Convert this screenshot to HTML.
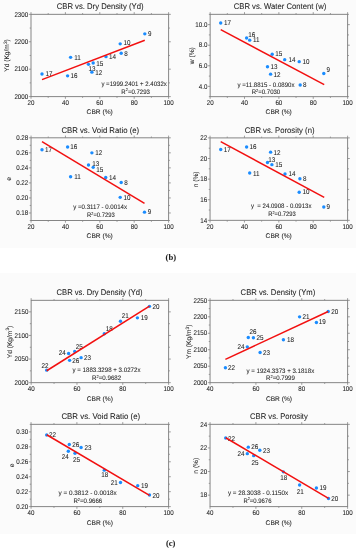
<!DOCTYPE html>
<html><head><meta charset="utf-8"><style>
html,body{margin:0;padding:0;background:#fff;}
svg{display:block;text-rendering:geometricPrecision;will-change:transform;}
text{font-family:"Liberation Sans",sans-serif;fill:#222;stroke:#222;stroke-width:0.06px;}
.tk{font-size:6.88px;}
.lb{font-size:6.99px;}
.ti{font-size:8.2px;}
.ax{font-size:6.65px;}
.eq{font-size:6.5px;}
.sup{font-size:4.8px;}
.sup2{font-size:4.2px;}
.cap{font-family:"Liberation Serif",serif;font-weight:bold;font-size:8.6px;}
</style></head><body>
<svg width="356" height="550" viewBox="0 0 356 550">
<rect width="356" height="550" fill="#fff"/>
<rect x="0" y="0" width="356" height="248" fill="#fbfbfb"/>
<rect x="0" y="273" width="356" height="261" fill="#fbfbfb"/>
<rect x="31" y="14.35" width="137.6" height="82.25" fill="none" stroke="#858585" stroke-width="1.0"/>
<path d="M31 96.6v2.2M31 14.35v-2.2M48.2 96.6v1.3M48.2 14.35v-1.3M65.4 96.6v2.2M65.4 14.35v-2.2M82.6 96.6v1.3M82.6 14.35v-1.3M99.8 96.6v2.2M99.8 14.35v-2.2M117 96.6v1.3M117 14.35v-1.3M134.2 96.6v2.2M134.2 14.35v-2.2M151.4 96.6v1.3M151.4 14.35v-1.3M168.6 96.6v2.2M168.6 14.35v-2.2M31 96.6h-2.2M168.6 96.6h2.2M31 82.89h-1.3M168.6 82.89h1.3M31 69.18h-2.2M168.6 69.18h2.2M31 55.47h-1.3M168.6 55.47h1.3M31 41.77h-2.2M168.6 41.77h2.2M31 28.06h-1.3M168.6 28.06h1.3M31 14.35h-2.2M168.6 14.35h2.2" stroke="#858585" stroke-width="0.8" fill="none"/>
<text x="31" y="104.76" class="tk" text-anchor="middle" textLength="6.9" lengthAdjust="spacingAndGlyphs">20</text>
<text x="65.4" y="104.76" class="tk" text-anchor="middle" textLength="6.9" lengthAdjust="spacingAndGlyphs">40</text>
<text x="99.8" y="104.76" class="tk" text-anchor="middle" textLength="6.9" lengthAdjust="spacingAndGlyphs">60</text>
<text x="134.2" y="104.76" class="tk" text-anchor="middle" textLength="6.9" lengthAdjust="spacingAndGlyphs">80</text>
<text x="168.6" y="104.76" class="tk" text-anchor="middle" textLength="10.34" lengthAdjust="spacingAndGlyphs">100</text>
<text x="28.2" y="98.81" class="tk" text-anchor="end" textLength="13.79" lengthAdjust="spacingAndGlyphs">2000</text>
<text x="28.2" y="71.4" class="tk" text-anchor="end" textLength="13.79" lengthAdjust="spacingAndGlyphs">2100</text>
<text x="28.2" y="43.98" class="tk" text-anchor="end" textLength="13.79" lengthAdjust="spacingAndGlyphs">2200</text>
<text x="28.2" y="16.56" class="tk" text-anchor="end" textLength="13.79" lengthAdjust="spacingAndGlyphs">2300</text>
<text x="56.7" y="9.2" class="ti" textLength="86.8" lengthAdjust="spacingAndGlyphs">CBR vs. Dry Density (Yd)</text>
<text x="99.7" y="114.4" class="ax" text-anchor="middle">CBR (%)</text>
<text transform="translate(9.1,55.5) rotate(-90)" x="0" y="0" class="ax" text-anchor="middle">Yd (Kg/m<tspan class="sup" dy="-2.6">3</tspan><tspan dy="2.6">)</tspan></text>
<circle cx="42" cy="73.95" r="1.7" fill="#1a8cff"/>
<text x="48.9" y="76.1" class="lb" text-anchor="middle" textLength="7.01" lengthAdjust="spacingAndGlyphs">17</text>
<circle cx="67.6" cy="75.85" r="1.7" fill="#1a8cff"/>
<text x="74.1" y="78" class="lb" text-anchor="middle" textLength="7.01" lengthAdjust="spacingAndGlyphs">16</text>
<circle cx="70.6" cy="57.35" r="1.7" fill="#1a8cff"/>
<text x="77.5" y="59.5" class="lb" text-anchor="middle" textLength="6.54" lengthAdjust="spacingAndGlyphs">11</text>
<circle cx="88.5" cy="64.35" r="1.7" fill="#1a8cff"/>
<text x="92" y="70.9" class="lb" text-anchor="middle" textLength="7.01" lengthAdjust="spacingAndGlyphs">13</text>
<circle cx="93.2" cy="63.05" r="1.7" fill="#1a8cff"/>
<text x="99.7" y="65.5" class="lb" text-anchor="middle" textLength="7.01" lengthAdjust="spacingAndGlyphs">15</text>
<circle cx="91.9" cy="72.15" r="1.7" fill="#1a8cff"/>
<text x="98.7" y="74.6" class="lb" text-anchor="middle" textLength="7.01" lengthAdjust="spacingAndGlyphs">12</text>
<circle cx="106" cy="56.65" r="1.7" fill="#1a8cff"/>
<text x="112.5" y="59.1" class="lb" text-anchor="middle" textLength="7.01" lengthAdjust="spacingAndGlyphs">14</text>
<circle cx="120.2" cy="43.85" r="1.7" fill="#1a8cff"/>
<text x="127" y="44.6" class="lb" text-anchor="middle" textLength="7.01" lengthAdjust="spacingAndGlyphs">10</text>
<circle cx="121.2" cy="53.25" r="1.7" fill="#1a8cff"/>
<text x="126" y="55.8" class="lb" text-anchor="middle" textLength="3.5" lengthAdjust="spacingAndGlyphs">8</text>
<circle cx="144.8" cy="33.85" r="1.7" fill="#1a8cff"/>
<text x="149.7" y="36.1" class="lb" text-anchor="middle" textLength="3.5" lengthAdjust="spacingAndGlyphs">9</text>
<line x1="42" y1="79.65" x2="144.8" y2="40.25" stroke="#f21010" stroke-width="1.5"/>
<text x="101.4" y="86.2" class="eq" textLength="65.4" lengthAdjust="spacingAndGlyphs">y =1999.2401 + 2.4032x</text>
<text x="121.3" y="93.6" class="eq" textLength="28.7" lengthAdjust="spacingAndGlyphs">R<tspan class="sup2" dy="-2.2">2</tspan><tspan dy="2.2">=0.7293</tspan></text>
<rect x="210.15" y="14.35" width="137.45" height="82.3" fill="none" stroke="#858585" stroke-width="1.0"/>
<path d="M210.15 96.65v2.2M210.15 14.35v-2.2M227.33 96.65v1.3M227.33 14.35v-1.3M244.51 96.65v2.2M244.51 14.35v-2.2M261.69 96.65v1.3M261.69 14.35v-1.3M278.88 96.65v2.2M278.88 14.35v-2.2M296.06 96.65v1.3M296.06 14.35v-1.3M313.24 96.65v2.2M313.24 14.35v-2.2M330.42 96.65v1.3M330.42 14.35v-1.3M347.6 96.65v2.2M347.6 14.35v-2.2M210.15 96.65h-1.3M347.6 96.65h1.3M210.15 86.36h-2.2M347.6 86.36h2.2M210.15 76.08h-1.3M347.6 76.08h1.3M210.15 65.79h-2.2M347.6 65.79h2.2M210.15 55.5h-1.3M347.6 55.5h1.3M210.15 45.21h-2.2M347.6 45.21h2.2M210.15 34.92h-1.3M347.6 34.92h1.3M210.15 24.64h-2.2M347.6 24.64h2.2M210.15 14.35h-1.3M347.6 14.35h1.3" stroke="#858585" stroke-width="0.8" fill="none"/>
<text x="210.15" y="104.81" class="tk" text-anchor="middle" textLength="6.9" lengthAdjust="spacingAndGlyphs">20</text>
<text x="244.51" y="104.81" class="tk" text-anchor="middle" textLength="6.9" lengthAdjust="spacingAndGlyphs">40</text>
<text x="278.88" y="104.81" class="tk" text-anchor="middle" textLength="6.9" lengthAdjust="spacingAndGlyphs">60</text>
<text x="313.24" y="104.81" class="tk" text-anchor="middle" textLength="6.9" lengthAdjust="spacingAndGlyphs">80</text>
<text x="347.6" y="104.81" class="tk" text-anchor="middle" textLength="10.34" lengthAdjust="spacingAndGlyphs">100</text>
<text x="207.35" y="88.58" class="tk" text-anchor="end" textLength="8.62" lengthAdjust="spacingAndGlyphs">4.0</text>
<text x="207.35" y="68" class="tk" text-anchor="end" textLength="8.62" lengthAdjust="spacingAndGlyphs">6.0</text>
<text x="207.35" y="47.43" class="tk" text-anchor="end" textLength="8.62" lengthAdjust="spacingAndGlyphs">8.0</text>
<text x="207.35" y="26.85" class="tk" text-anchor="end" textLength="12.07" lengthAdjust="spacingAndGlyphs">10.0</text>
<text x="233.7" y="9" class="ti" textLength="92.6" lengthAdjust="spacingAndGlyphs">CBR vs. Water Content (w)</text>
<text x="278.7" y="114.4" class="ax" text-anchor="middle">CBR (%)</text>
<text transform="translate(194.1,55.7) rotate(-90)" x="0" y="0" class="ax" text-anchor="middle">w (%)</text>
<circle cx="220.7" cy="22.95" r="1.7" fill="#1a8cff"/>
<text x="227.5" y="25.1" class="lb" text-anchor="middle" textLength="7.01" lengthAdjust="spacingAndGlyphs">17</text>
<circle cx="246.6" cy="38.05" r="1.7" fill="#1a8cff"/>
<text x="251.8" y="37.2" class="lb" text-anchor="middle" textLength="7.01" lengthAdjust="spacingAndGlyphs">16</text>
<circle cx="249.7" cy="40.15" r="1.7" fill="#1a8cff"/>
<text x="256.2" y="42.3" class="lb" text-anchor="middle" textLength="6.54" lengthAdjust="spacingAndGlyphs">11</text>
<circle cx="272.2" cy="54.25" r="1.7" fill="#1a8cff"/>
<text x="278.7" y="56.4" class="lb" text-anchor="middle" textLength="7.01" lengthAdjust="spacingAndGlyphs">15</text>
<circle cx="284.7" cy="59.65" r="1.7" fill="#1a8cff"/>
<text x="291.9" y="61.8" class="lb" text-anchor="middle" textLength="7.01" lengthAdjust="spacingAndGlyphs">14</text>
<circle cx="267.5" cy="66.75" r="1.7" fill="#1a8cff"/>
<text x="274" y="69.2" class="lb" text-anchor="middle" textLength="7.01" lengthAdjust="spacingAndGlyphs">13</text>
<circle cx="270.6" cy="74.15" r="1.7" fill="#1a8cff"/>
<text x="277.1" y="76.6" class="lb" text-anchor="middle" textLength="7.01" lengthAdjust="spacingAndGlyphs">12</text>
<circle cx="299.2" cy="61.65" r="1.7" fill="#1a8cff"/>
<text x="306.1" y="63.8" class="lb" text-anchor="middle" textLength="7.01" lengthAdjust="spacingAndGlyphs">10</text>
<circle cx="323.8" cy="73.45" r="1.7" fill="#1a8cff"/>
<text x="328.3" y="72.3" class="lb" text-anchor="middle" textLength="3.5" lengthAdjust="spacingAndGlyphs">9</text>
<circle cx="300.2" cy="84.95" r="1.7" fill="#1a8cff"/>
<text x="304.7" y="87.1" class="lb" text-anchor="middle" textLength="3.5" lengthAdjust="spacingAndGlyphs">8</text>
<line x1="220.7" y1="29.55" x2="324.2" y2="84.65" stroke="#f21010" stroke-width="1.5"/>
<text x="237.5" y="86.9" class="eq" textLength="57" lengthAdjust="spacingAndGlyphs">y =11.8815 - 0.0890x</text>
<text x="251.7" y="94.2" class="eq" textLength="28.5" lengthAdjust="spacingAndGlyphs">R<tspan class="sup2" dy="-2.2">2</tspan><tspan dy="2.2">=0.7030</tspan></text>
<rect x="31.05" y="137.8" width="137.55" height="82.7" fill="none" stroke="#858585" stroke-width="1.0"/>
<path d="M31.05 220.5v2.2M31.05 137.8v-2.2M48.24 220.5v1.3M48.24 137.8v-1.3M65.44 220.5v2.2M65.44 137.8v-2.2M82.63 220.5v1.3M82.63 137.8v-1.3M99.82 220.5v2.2M99.82 137.8v-2.2M117.02 220.5v1.3M117.02 137.8v-1.3M134.21 220.5v2.2M134.21 137.8v-2.2M151.41 220.5v1.3M151.41 137.8v-1.3M168.6 220.5v2.2M168.6 137.8v-2.2M31.05 220.5h-1.3M168.6 220.5h1.3M31.05 212.98h-2.2M168.6 212.98h2.2M31.05 205.46h-1.3M168.6 205.46h1.3M31.05 197.95h-2.2M168.6 197.95h2.2M31.05 190.43h-1.3M168.6 190.43h1.3M31.05 182.91h-2.2M168.6 182.91h2.2M31.05 175.39h-1.3M168.6 175.39h1.3M31.05 167.87h-2.2M168.6 167.87h2.2M31.05 160.35h-1.3M168.6 160.35h1.3M31.05 152.84h-2.2M168.6 152.84h2.2M31.05 145.32h-1.3M168.6 145.32h1.3M31.05 137.8h-2.2M168.6 137.8h2.2" stroke="#858585" stroke-width="0.8" fill="none"/>
<text x="31.05" y="228.66" class="tk" text-anchor="middle" textLength="6.9" lengthAdjust="spacingAndGlyphs">20</text>
<text x="65.44" y="228.66" class="tk" text-anchor="middle" textLength="6.9" lengthAdjust="spacingAndGlyphs">40</text>
<text x="99.82" y="228.66" class="tk" text-anchor="middle" textLength="6.9" lengthAdjust="spacingAndGlyphs">60</text>
<text x="134.21" y="228.66" class="tk" text-anchor="middle" textLength="6.9" lengthAdjust="spacingAndGlyphs">80</text>
<text x="168.6" y="228.66" class="tk" text-anchor="middle" textLength="10.34" lengthAdjust="spacingAndGlyphs">100</text>
<text x="28.25" y="215.2" class="tk" text-anchor="end" textLength="12.07" lengthAdjust="spacingAndGlyphs">0.18</text>
<text x="28.25" y="200.16" class="tk" text-anchor="end" textLength="12.07" lengthAdjust="spacingAndGlyphs">0.20</text>
<text x="28.25" y="185.12" class="tk" text-anchor="end" textLength="12.07" lengthAdjust="spacingAndGlyphs">0.22</text>
<text x="28.25" y="170.09" class="tk" text-anchor="end" textLength="12.07" lengthAdjust="spacingAndGlyphs">0.24</text>
<text x="28.25" y="155.05" class="tk" text-anchor="end" textLength="12.07" lengthAdjust="spacingAndGlyphs">0.26</text>
<text x="28.25" y="140.01" class="tk" text-anchor="end" textLength="12.07" lengthAdjust="spacingAndGlyphs">0.28</text>
<text x="61.4" y="132.5" class="ti" textLength="77.8" lengthAdjust="spacingAndGlyphs">CBR vs. Void Ratio (e)</text>
<text x="99.7" y="237.8" class="ax" text-anchor="middle">CBR (%)</text>
<text transform="translate(11.2,179) rotate(-90)" x="0" y="0" class="ax" text-anchor="middle">e</text>
<circle cx="42" cy="149.75" r="1.7" fill="#1a8cff"/>
<text x="48.5" y="151.9" class="lb" text-anchor="middle" textLength="7.01" lengthAdjust="spacingAndGlyphs">17</text>
<circle cx="67.6" cy="147.05" r="1.7" fill="#1a8cff"/>
<text x="73.8" y="149.2" class="lb" text-anchor="middle" textLength="7.01" lengthAdjust="spacingAndGlyphs">16</text>
<circle cx="91.9" cy="152.85" r="1.7" fill="#1a8cff"/>
<text x="98.7" y="154.8" class="lb" text-anchor="middle" textLength="7.01" lengthAdjust="spacingAndGlyphs">12</text>
<circle cx="88.5" cy="164.95" r="1.7" fill="#1a8cff"/>
<text x="95.7" y="166.1" class="lb" text-anchor="middle" textLength="7.01" lengthAdjust="spacingAndGlyphs">13</text>
<circle cx="93.2" cy="167.35" r="1.7" fill="#1a8cff"/>
<text x="99.7" y="172.2" class="lb" text-anchor="middle" textLength="7.01" lengthAdjust="spacingAndGlyphs">15</text>
<circle cx="70.6" cy="176.75" r="1.7" fill="#1a8cff"/>
<text x="77.5" y="178.9" class="lb" text-anchor="middle" textLength="6.54" lengthAdjust="spacingAndGlyphs">11</text>
<circle cx="105.7" cy="177.45" r="1.7" fill="#1a8cff"/>
<text x="112.5" y="179.9" class="lb" text-anchor="middle" textLength="7.01" lengthAdjust="spacingAndGlyphs">14</text>
<circle cx="121.2" cy="182.45" r="1.7" fill="#1a8cff"/>
<text x="126" y="185" class="lb" text-anchor="middle" textLength="3.5" lengthAdjust="spacingAndGlyphs">8</text>
<circle cx="120.2" cy="197.35" r="1.7" fill="#1a8cff"/>
<text x="127" y="199.5" class="lb" text-anchor="middle" textLength="7.01" lengthAdjust="spacingAndGlyphs">10</text>
<circle cx="144.5" cy="212.15" r="1.7" fill="#1a8cff"/>
<text x="149.6" y="214.3" class="lb" text-anchor="middle" textLength="3.5" lengthAdjust="spacingAndGlyphs">9</text>
<line x1="42" y1="141.65" x2="144.5" y2="203.35" stroke="#f21010" stroke-width="1.5"/>
<text x="73.3" y="208.8" class="eq" textLength="53.7" lengthAdjust="spacingAndGlyphs">y =0.3117 - 0.0014x</text>
<text x="87.1" y="217.1" class="eq" textLength="27.7" lengthAdjust="spacingAndGlyphs">R<tspan class="sup2" dy="-2.2">2</tspan><tspan dy="2.2">=0.7293</tspan></text>
<rect x="210.05" y="137.9" width="137.55" height="82.45" fill="none" stroke="#858585" stroke-width="1.0"/>
<path d="M210.05 220.35v2.2M210.05 137.9v-2.2M227.24 220.35v1.3M227.24 137.9v-1.3M244.44 220.35v2.2M244.44 137.9v-2.2M261.63 220.35v1.3M261.63 137.9v-1.3M278.83 220.35v2.2M278.83 137.9v-2.2M296.02 220.35v1.3M296.02 137.9v-1.3M313.21 220.35v2.2M313.21 137.9v-2.2M330.41 220.35v1.3M330.41 137.9v-1.3M347.6 220.35v2.2M347.6 137.9v-2.2M210.05 220.35h-2.2M347.6 220.35h2.2M210.05 210.04h-1.3M347.6 210.04h1.3M210.05 199.74h-2.2M347.6 199.74h2.2M210.05 189.43h-1.3M347.6 189.43h1.3M210.05 179.12h-2.2M347.6 179.12h2.2M210.05 168.82h-1.3M347.6 168.82h1.3M210.05 158.51h-2.2M347.6 158.51h2.2M210.05 148.21h-1.3M347.6 148.21h1.3M210.05 137.9h-2.2M347.6 137.9h2.2" stroke="#858585" stroke-width="0.8" fill="none"/>
<text x="210.05" y="228.51" class="tk" text-anchor="middle" textLength="6.9" lengthAdjust="spacingAndGlyphs">20</text>
<text x="244.44" y="228.51" class="tk" text-anchor="middle" textLength="6.9" lengthAdjust="spacingAndGlyphs">40</text>
<text x="278.83" y="228.51" class="tk" text-anchor="middle" textLength="6.9" lengthAdjust="spacingAndGlyphs">60</text>
<text x="313.21" y="228.51" class="tk" text-anchor="middle" textLength="6.9" lengthAdjust="spacingAndGlyphs">80</text>
<text x="347.6" y="228.51" class="tk" text-anchor="middle" textLength="10.34" lengthAdjust="spacingAndGlyphs">100</text>
<text x="207.25" y="222.56" class="tk" text-anchor="end" textLength="6.9" lengthAdjust="spacingAndGlyphs">14</text>
<text x="207.25" y="201.95" class="tk" text-anchor="end" textLength="6.9" lengthAdjust="spacingAndGlyphs">16</text>
<text x="207.25" y="181.34" class="tk" text-anchor="end" textLength="6.9" lengthAdjust="spacingAndGlyphs">18</text>
<text x="207.25" y="160.73" class="tk" text-anchor="end" textLength="6.9" lengthAdjust="spacingAndGlyphs">20</text>
<text x="207.25" y="140.11" class="tk" text-anchor="end" textLength="6.9" lengthAdjust="spacingAndGlyphs">22</text>
<text x="244.7" y="132.5" class="ti" textLength="69.8" lengthAdjust="spacingAndGlyphs">CBR vs. Porosity (n)</text>
<text x="278.7" y="237.8" class="ax" text-anchor="middle">CBR (%)</text>
<text transform="translate(197.7,179.4) rotate(-90)" x="0" y="0" class="ax" text-anchor="middle">n (%)</text>
<circle cx="220.7" cy="149.45" r="1.7" fill="#1a8cff"/>
<text x="227.2" y="151.6" class="lb" text-anchor="middle" textLength="7.01" lengthAdjust="spacingAndGlyphs">17</text>
<circle cx="246.6" cy="147.05" r="1.7" fill="#1a8cff"/>
<text x="253.1" y="149.2" class="lb" text-anchor="middle" textLength="7.01" lengthAdjust="spacingAndGlyphs">16</text>
<circle cx="270.6" cy="152.15" r="1.7" fill="#1a8cff"/>
<text x="277.1" y="154.6" class="lb" text-anchor="middle" textLength="7.01" lengthAdjust="spacingAndGlyphs">12</text>
<circle cx="267.5" cy="162.55" r="1.7" fill="#1a8cff"/>
<text x="271.7" y="162" class="lb" text-anchor="middle" textLength="7.01" lengthAdjust="spacingAndGlyphs">13</text>
<circle cx="271.9" cy="164.65" r="1.7" fill="#1a8cff"/>
<text x="278.7" y="167.1" class="lb" text-anchor="middle" textLength="7.01" lengthAdjust="spacingAndGlyphs">15</text>
<circle cx="249.7" cy="173.05" r="1.7" fill="#1a8cff"/>
<text x="256.2" y="175.5" class="lb" text-anchor="middle" textLength="6.54" lengthAdjust="spacingAndGlyphs">11</text>
<circle cx="285" cy="174.05" r="1.7" fill="#1a8cff"/>
<text x="291.9" y="176.2" class="lb" text-anchor="middle" textLength="7.01" lengthAdjust="spacingAndGlyphs">14</text>
<circle cx="299.9" cy="178.75" r="1.7" fill="#1a8cff"/>
<text x="304.7" y="180.9" class="lb" text-anchor="middle" textLength="3.5" lengthAdjust="spacingAndGlyphs">8</text>
<circle cx="299.2" cy="192.25" r="1.7" fill="#1a8cff"/>
<text x="306.1" y="194.4" class="lb" text-anchor="middle" textLength="7.01" lengthAdjust="spacingAndGlyphs">10</text>
<circle cx="323.8" cy="207.05" r="1.7" fill="#1a8cff"/>
<text x="328.3" y="209" class="lb" text-anchor="middle" textLength="3.5" lengthAdjust="spacingAndGlyphs">9</text>
<line x1="220.7" y1="141.65" x2="324.2" y2="197.35" stroke="#f21010" stroke-width="1.5"/>
<text x="250.9" y="207.6" class="eq" textLength="60.6" lengthAdjust="spacingAndGlyphs">y&#160;&#160;= 24.0908 - 0.0913x</text>
<text x="268.2" y="215.8" class="eq" textLength="27.5" lengthAdjust="spacingAndGlyphs">R<tspan class="sup2" dy="-2.2">2</tspan><tspan dy="2.2">=0.7293</tspan></text>
<rect x="31.15" y="300.35" width="137.45" height="82.3" fill="none" stroke="#858585" stroke-width="1.0"/>
<path d="M31.15 382.65v2.2M31.15 300.35v-2.2M54.06 382.65v1.3M54.06 300.35v-1.3M76.97 382.65v2.2M76.97 300.35v-2.2M99.88 382.65v1.3M99.88 300.35v-1.3M122.78 382.65v2.2M122.78 300.35v-2.2M145.69 382.65v1.3M145.69 300.35v-1.3M168.6 382.65v2.2M168.6 300.35v-2.2M31.15 382.65h-2.2M168.6 382.65h2.2M31.15 370.85h-1.3M168.6 370.85h1.3M31.15 359.05h-2.2M168.6 359.05h2.2M31.15 347.26h-1.3M168.6 347.26h1.3M31.15 335.46h-2.2M168.6 335.46h2.2M31.15 323.66h-1.3M168.6 323.66h1.3M31.15 311.86h-2.2M168.6 311.86h2.2" stroke="#858585" stroke-width="0.8" fill="none"/>
<text x="31.15" y="390.81" class="tk" text-anchor="middle" textLength="6.9" lengthAdjust="spacingAndGlyphs">40</text>
<text x="76.97" y="390.81" class="tk" text-anchor="middle" textLength="6.9" lengthAdjust="spacingAndGlyphs">60</text>
<text x="122.78" y="390.81" class="tk" text-anchor="middle" textLength="6.9" lengthAdjust="spacingAndGlyphs">80</text>
<text x="168.6" y="390.81" class="tk" text-anchor="middle" textLength="10.34" lengthAdjust="spacingAndGlyphs">100</text>
<text x="28.35" y="384.86" class="tk" text-anchor="end" textLength="13.79" lengthAdjust="spacingAndGlyphs">2000</text>
<text x="28.35" y="361.27" class="tk" text-anchor="end" textLength="13.79" lengthAdjust="spacingAndGlyphs">2050</text>
<text x="28.35" y="337.67" class="tk" text-anchor="end" textLength="13.79" lengthAdjust="spacingAndGlyphs">2100</text>
<text x="28.35" y="314.08" class="tk" text-anchor="end" textLength="13.79" lengthAdjust="spacingAndGlyphs">2150</text>
<text x="56.6" y="295.3" class="ti" textLength="86" lengthAdjust="spacingAndGlyphs">CBR vs. Dry Density (Yd)</text>
<text x="99.8" y="400.9" class="ax" text-anchor="middle">CBR (%)</text>
<text transform="translate(11.8,342) rotate(-90)" x="0" y="0" class="ax" text-anchor="middle">Yd (Kg/m<tspan class="sup" dy="-2.6">3</tspan><tspan dy="2.6">)</tspan></text>
<circle cx="46.7" cy="370.15" r="1.7" fill="#1a8cff"/>
<text x="45.1" y="367.9" class="lb" text-anchor="middle" textLength="7.01" lengthAdjust="spacingAndGlyphs">22</text>
<circle cx="68.6" cy="353.55" r="1.7" fill="#1a8cff"/>
<text x="62.3" y="355.4" class="lb" text-anchor="middle" textLength="7.01" lengthAdjust="spacingAndGlyphs">24</text>
<circle cx="74.7" cy="351.55" r="1.7" fill="#1a8cff"/>
<text x="79.2" y="349" class="lb" text-anchor="middle" textLength="7.01" lengthAdjust="spacingAndGlyphs">25</text>
<circle cx="69.6" cy="360.35" r="1.7" fill="#1a8cff"/>
<text x="75.8" y="362.8" class="lb" text-anchor="middle" textLength="7.01" lengthAdjust="spacingAndGlyphs">26</text>
<circle cx="81.1" cy="357.65" r="1.7" fill="#1a8cff"/>
<text x="87.6" y="360.1" class="lb" text-anchor="middle" textLength="7.01" lengthAdjust="spacingAndGlyphs">23</text>
<circle cx="104.3" cy="333.75" r="1.7" fill="#1a8cff"/>
<text x="109.2" y="330.9" class="lb" text-anchor="middle" textLength="7.01" lengthAdjust="spacingAndGlyphs">18</text>
<circle cx="120.5" cy="321.25" r="1.7" fill="#1a8cff"/>
<text x="125.3" y="318.4" class="lb" text-anchor="middle" textLength="7.01" lengthAdjust="spacingAndGlyphs">21</text>
<circle cx="137.4" cy="317.85" r="1.7" fill="#1a8cff"/>
<text x="144.2" y="320.4" class="lb" text-anchor="middle" textLength="7.01" lengthAdjust="spacingAndGlyphs">19</text>
<circle cx="149.5" cy="306.35" r="1.7" fill="#1a8cff"/>
<text x="156" y="308.9" class="lb" text-anchor="middle" textLength="7.01" lengthAdjust="spacingAndGlyphs">20</text>
<line x1="46.7" y1="370.75" x2="149.5" y2="306.05" stroke="#f21010" stroke-width="1.5"/>
<text x="72.5" y="371.5" class="eq" textLength="68" lengthAdjust="spacingAndGlyphs">y = 1883.3298 + 3.0272x</text>
<text x="92.1" y="380" class="eq" textLength="29.1" lengthAdjust="spacingAndGlyphs">R<tspan class="sup2" dy="-2.2">2</tspan><tspan dy="2.2">=0.9682</tspan></text>
<rect x="210.05" y="300.35" width="137.55" height="82.3" fill="none" stroke="#858585" stroke-width="1.0"/>
<path d="M210.05 382.65v2.2M210.05 300.35v-2.2M232.98 382.65v1.3M232.98 300.35v-1.3M255.9 382.65v2.2M255.9 300.35v-2.2M278.83 382.65v1.3M278.83 300.35v-1.3M301.75 382.65v2.2M301.75 300.35v-2.2M324.68 382.65v1.3M324.68 300.35v-1.3M347.6 382.65v2.2M347.6 300.35v-2.2M210.05 382.65h-2.2M347.6 382.65h2.2M210.05 374.42h-1.3M347.6 374.42h1.3M210.05 366.19h-2.2M347.6 366.19h2.2M210.05 357.96h-1.3M347.6 357.96h1.3M210.05 349.73h-2.2M347.6 349.73h2.2M210.05 341.5h-1.3M347.6 341.5h1.3M210.05 333.27h-2.2M347.6 333.27h2.2M210.05 325.04h-1.3M347.6 325.04h1.3M210.05 316.81h-2.2M347.6 316.81h2.2M210.05 308.58h-1.3M347.6 308.58h1.3M210.05 300.35h-2.2M347.6 300.35h2.2" stroke="#858585" stroke-width="0.8" fill="none"/>
<text x="210.05" y="390.81" class="tk" text-anchor="middle" textLength="6.9" lengthAdjust="spacingAndGlyphs">40</text>
<text x="255.9" y="390.81" class="tk" text-anchor="middle" textLength="6.9" lengthAdjust="spacingAndGlyphs">60</text>
<text x="301.75" y="390.81" class="tk" text-anchor="middle" textLength="6.9" lengthAdjust="spacingAndGlyphs">80</text>
<text x="347.6" y="390.81" class="tk" text-anchor="middle" textLength="10.34" lengthAdjust="spacingAndGlyphs">100</text>
<text x="207.25" y="384.86" class="tk" text-anchor="end" textLength="13.79" lengthAdjust="spacingAndGlyphs">2000</text>
<text x="207.25" y="368.4" class="tk" text-anchor="end" textLength="13.79" lengthAdjust="spacingAndGlyphs">2050</text>
<text x="207.25" y="351.94" class="tk" text-anchor="end" textLength="13.79" lengthAdjust="spacingAndGlyphs">2100</text>
<text x="207.25" y="335.48" class="tk" text-anchor="end" textLength="13.79" lengthAdjust="spacingAndGlyphs">2150</text>
<text x="207.25" y="319.02" class="tk" text-anchor="end" textLength="13.79" lengthAdjust="spacingAndGlyphs">2200</text>
<text x="207.25" y="302.56" class="tk" text-anchor="end" textLength="13.79" lengthAdjust="spacingAndGlyphs">2250</text>
<text x="240.6" y="295.3" class="ti" textLength="74.6" lengthAdjust="spacingAndGlyphs">CBR vs. Density (Ym)</text>
<text x="279" y="400.9" class="ax" text-anchor="middle">CBR (%)</text>
<text transform="translate(191.3,341.8) rotate(-90)" x="0" y="0" class="ax" text-anchor="middle">Ym (Kg/m<tspan class="sup" dy="-2.6">3</tspan><tspan dy="2.6">)</tspan></text>
<circle cx="225.4" cy="367.75" r="1.7" fill="#1a8cff"/>
<text x="231.6" y="370.2" class="lb" text-anchor="middle" textLength="7.01" lengthAdjust="spacingAndGlyphs">22</text>
<circle cx="247.3" cy="346.85" r="1.7" fill="#1a8cff"/>
<text x="241" y="348.7" class="lb" text-anchor="middle" textLength="7.01" lengthAdjust="spacingAndGlyphs">24</text>
<circle cx="248.3" cy="337.45" r="1.7" fill="#1a8cff"/>
<text x="253.1" y="333.8" class="lb" text-anchor="middle" textLength="7.01" lengthAdjust="spacingAndGlyphs">26</text>
<circle cx="253.4" cy="337.75" r="1.7" fill="#1a8cff"/>
<text x="259.9" y="340.2" class="lb" text-anchor="middle" textLength="7.01" lengthAdjust="spacingAndGlyphs">25</text>
<circle cx="260.1" cy="352.55" r="1.7" fill="#1a8cff"/>
<text x="266.6" y="355.1" class="lb" text-anchor="middle" textLength="7.01" lengthAdjust="spacingAndGlyphs">23</text>
<circle cx="283.4" cy="339.75" r="1.7" fill="#1a8cff"/>
<text x="290.5" y="342.3" class="lb" text-anchor="middle" textLength="7.01" lengthAdjust="spacingAndGlyphs">18</text>
<circle cx="299.6" cy="316.85" r="1.7" fill="#1a8cff"/>
<text x="306.1" y="319.3" class="lb" text-anchor="middle" textLength="7.01" lengthAdjust="spacingAndGlyphs">21</text>
<circle cx="316.4" cy="322.55" r="1.7" fill="#1a8cff"/>
<text x="322.3" y="324.4" class="lb" text-anchor="middle" textLength="7.01" lengthAdjust="spacingAndGlyphs">19</text>
<circle cx="328.2" cy="311.45" r="1.7" fill="#1a8cff"/>
<text x="334.7" y="314" class="lb" text-anchor="middle" textLength="7.01" lengthAdjust="spacingAndGlyphs">20</text>
<line x1="225.4" y1="359.35" x2="328.2" y2="311.45" stroke="#f21010" stroke-width="1.5"/>
<text x="246.5" y="373.1" class="eq" textLength="67.7" lengthAdjust="spacingAndGlyphs">y = 1924.3373 + 3.1818x</text>
<text x="266.1" y="380.3" class="eq" textLength="28.8" lengthAdjust="spacingAndGlyphs">R<tspan class="sup2" dy="-2.2">2</tspan><tspan dy="2.2">=0.7999</tspan></text>
<rect x="31.05" y="424.35" width="137.55" height="82.25" fill="none" stroke="#858585" stroke-width="1.0"/>
<path d="M31.05 506.6v2.2M31.05 424.35v-2.2M53.97 506.6v1.3M53.97 424.35v-1.3M76.9 506.6v2.2M76.9 424.35v-2.2M99.82 506.6v1.3M99.82 424.35v-1.3M122.75 506.6v2.2M122.75 424.35v-2.2M145.67 506.6v1.3M145.67 424.35v-1.3M168.6 506.6v2.2M168.6 424.35v-2.2M31.05 506.6h-2.2M168.6 506.6h2.2M31.05 499.13h-1.3M168.6 499.13h1.3M31.05 491.66h-2.2M168.6 491.66h2.2M31.05 484.19h-1.3M168.6 484.19h1.3M31.05 476.72h-2.2M168.6 476.72h2.2M31.05 469.25h-1.3M168.6 469.25h1.3M31.05 461.78h-2.2M168.6 461.78h2.2M31.05 454.31h-1.3M168.6 454.31h1.3M31.05 446.84h-2.2M168.6 446.84h2.2M31.05 439.37h-1.3M168.6 439.37h1.3M31.05 431.9h-2.2M168.6 431.9h2.2M31.05 424.42h-1.3M168.6 424.42h1.3" stroke="#858585" stroke-width="0.8" fill="none"/>
<text x="31.05" y="514.76" class="tk" text-anchor="middle" textLength="6.9" lengthAdjust="spacingAndGlyphs">40</text>
<text x="76.9" y="514.76" class="tk" text-anchor="middle" textLength="6.9" lengthAdjust="spacingAndGlyphs">60</text>
<text x="122.75" y="514.76" class="tk" text-anchor="middle" textLength="6.9" lengthAdjust="spacingAndGlyphs">80</text>
<text x="168.6" y="514.76" class="tk" text-anchor="middle" textLength="10.34" lengthAdjust="spacingAndGlyphs">100</text>
<text x="28.25" y="508.81" class="tk" text-anchor="end" textLength="12.07" lengthAdjust="spacingAndGlyphs">0.20</text>
<text x="28.25" y="493.87" class="tk" text-anchor="end" textLength="12.07" lengthAdjust="spacingAndGlyphs">0.22</text>
<text x="28.25" y="478.93" class="tk" text-anchor="end" textLength="12.07" lengthAdjust="spacingAndGlyphs">0.24</text>
<text x="28.25" y="463.99" class="tk" text-anchor="end" textLength="12.07" lengthAdjust="spacingAndGlyphs">0.26</text>
<text x="28.25" y="449.05" class="tk" text-anchor="end" textLength="12.07" lengthAdjust="spacingAndGlyphs">0.28</text>
<text x="28.25" y="434.11" class="tk" text-anchor="end" textLength="12.07" lengthAdjust="spacingAndGlyphs">0.30</text>
<text x="61.4" y="418.6" class="ti" textLength="78.8" lengthAdjust="spacingAndGlyphs">CBR vs. Void Ratio (e)</text>
<text x="99.8" y="524.5" class="ax" text-anchor="middle">CBR (%)</text>
<text transform="translate(13.9,465.3) rotate(-90)" x="0" y="0" class="ax" text-anchor="middle">e</text>
<circle cx="46.7" cy="435.05" r="1.7" fill="#1a8cff"/>
<text x="52.5" y="437.2" class="lb" text-anchor="middle" textLength="7.01" lengthAdjust="spacingAndGlyphs">22</text>
<circle cx="69.3" cy="444.55" r="1.7" fill="#1a8cff"/>
<text x="75.8" y="446.7" class="lb" text-anchor="middle" textLength="7.01" lengthAdjust="spacingAndGlyphs">26</text>
<circle cx="81.1" cy="447.55" r="1.7" fill="#1a8cff"/>
<text x="87.9" y="450" class="lb" text-anchor="middle" textLength="7.01" lengthAdjust="spacingAndGlyphs">23</text>
<circle cx="68.3" cy="451.25" r="1.7" fill="#1a8cff"/>
<text x="65.3" y="458.5" class="lb" text-anchor="middle" textLength="7.01" lengthAdjust="spacingAndGlyphs">24</text>
<circle cx="75" cy="453.25" r="1.7" fill="#1a8cff"/>
<text x="76.5" y="461.8" class="lb" text-anchor="middle" textLength="7.01" lengthAdjust="spacingAndGlyphs">25</text>
<circle cx="104.3" cy="470.15" r="1.7" fill="#1a8cff"/>
<text x="104.8" y="477.3" class="lb" text-anchor="middle" textLength="7.01" lengthAdjust="spacingAndGlyphs">18</text>
<circle cx="120.5" cy="482.55" r="1.7" fill="#1a8cff"/>
<text x="114.2" y="485.4" class="lb" text-anchor="middle" textLength="7.01" lengthAdjust="spacingAndGlyphs">21</text>
<circle cx="137.7" cy="485.65" r="1.7" fill="#1a8cff"/>
<text x="144.6" y="488.1" class="lb" text-anchor="middle" textLength="7.01" lengthAdjust="spacingAndGlyphs">19</text>
<circle cx="149.5" cy="495.05" r="1.7" fill="#1a8cff"/>
<text x="156" y="497.5" class="lb" text-anchor="middle" textLength="7.01" lengthAdjust="spacingAndGlyphs">20</text>
<line x1="46.7" y1="434.75" x2="149.5" y2="495.35" stroke="#f21010" stroke-width="1.5"/>
<text x="58.5" y="495.1" class="eq" textLength="58.3" lengthAdjust="spacingAndGlyphs">y = 0.3812 - 0.0018x</text>
<text x="73.4" y="503.2" class="eq" textLength="28.8" lengthAdjust="spacingAndGlyphs">R<tspan class="sup2" dy="-2.2">2</tspan><tspan dy="2.2">=0.9666</tspan></text>
<rect x="210.05" y="424.35" width="137.55" height="82.25" fill="none" stroke="#858585" stroke-width="1.0"/>
<path d="M210.05 506.6v2.2M210.05 424.35v-2.2M232.98 506.6v1.3M232.98 424.35v-1.3M255.9 506.6v2.2M255.9 424.35v-2.2M278.83 506.6v1.3M278.83 424.35v-1.3M301.75 506.6v2.2M301.75 424.35v-2.2M324.68 506.6v1.3M324.68 424.35v-1.3M347.6 506.6v2.2M347.6 424.35v-2.2M210.05 495.15h-2.2M347.6 495.15h2.2M210.05 483.35h-1.3M347.6 483.35h1.3M210.05 471.55h-2.2M347.6 471.55h2.2M210.05 459.75h-1.3M347.6 459.75h1.3M210.05 447.95h-2.2M347.6 447.95h2.2M210.05 436.15h-1.3M347.6 436.15h1.3M210.05 424.35h-2.2M347.6 424.35h2.2" stroke="#858585" stroke-width="0.8" fill="none"/>
<text x="210.05" y="514.76" class="tk" text-anchor="middle" textLength="6.9" lengthAdjust="spacingAndGlyphs">40</text>
<text x="255.9" y="514.76" class="tk" text-anchor="middle" textLength="6.9" lengthAdjust="spacingAndGlyphs">60</text>
<text x="301.75" y="514.76" class="tk" text-anchor="middle" textLength="6.9" lengthAdjust="spacingAndGlyphs">80</text>
<text x="347.6" y="514.76" class="tk" text-anchor="middle" textLength="10.34" lengthAdjust="spacingAndGlyphs">100</text>
<text x="207.25" y="497.37" class="tk" text-anchor="end" textLength="6.9" lengthAdjust="spacingAndGlyphs">18</text>
<text x="207.25" y="473.77" class="tk" text-anchor="end" textLength="6.9" lengthAdjust="spacingAndGlyphs">20</text>
<text x="207.25" y="450.16" class="tk" text-anchor="end" textLength="6.9" lengthAdjust="spacingAndGlyphs">22</text>
<text x="207.25" y="426.56" class="tk" text-anchor="end" textLength="6.9" lengthAdjust="spacingAndGlyphs">24</text>
<text x="250.1" y="418.6" class="ti" textLength="57.7" lengthAdjust="spacingAndGlyphs">CBR vs. Porosity</text>
<text x="278.7" y="525.2" class="ax" text-anchor="middle">CBR (%)</text>
<text transform="translate(197.8,465.7) rotate(-90)" x="0" y="0" class="ax" text-anchor="middle">n (%)</text>
<circle cx="225.7" cy="438.05" r="1.7" fill="#1a8cff"/>
<text x="231.6" y="440.6" class="lb" text-anchor="middle" textLength="7.01" lengthAdjust="spacingAndGlyphs">22</text>
<circle cx="248.3" cy="447.15" r="1.7" fill="#1a8cff"/>
<text x="254.8" y="449.3" class="lb" text-anchor="middle" textLength="7.01" lengthAdjust="spacingAndGlyphs">26</text>
<circle cx="259.8" cy="450.25" r="1.7" fill="#1a8cff"/>
<text x="266.6" y="452.7" class="lb" text-anchor="middle" textLength="7.01" lengthAdjust="spacingAndGlyphs">23</text>
<circle cx="247.3" cy="453.65" r="1.7" fill="#1a8cff"/>
<text x="241" y="456.4" class="lb" text-anchor="middle" textLength="7.01" lengthAdjust="spacingAndGlyphs">24</text>
<circle cx="253.7" cy="455.65" r="1.7" fill="#1a8cff"/>
<text x="255.1" y="464.9" class="lb" text-anchor="middle" textLength="7.01" lengthAdjust="spacingAndGlyphs">25</text>
<circle cx="283.4" cy="471.85" r="1.7" fill="#1a8cff"/>
<text x="283.8" y="479.7" class="lb" text-anchor="middle" textLength="7.01" lengthAdjust="spacingAndGlyphs">18</text>
<circle cx="299.6" cy="484.95" r="1.7" fill="#1a8cff"/>
<text x="300.3" y="493.5" class="lb" text-anchor="middle" textLength="7.01" lengthAdjust="spacingAndGlyphs">21</text>
<circle cx="316.4" cy="487.95" r="1.7" fill="#1a8cff"/>
<text x="322.9" y="490.1" class="lb" text-anchor="middle" textLength="7.01" lengthAdjust="spacingAndGlyphs">19</text>
<circle cx="328.5" cy="498.45" r="1.7" fill="#1a8cff"/>
<text x="334.7" y="500.9" class="lb" text-anchor="middle" textLength="7.01" lengthAdjust="spacingAndGlyphs">20</text>
<line x1="225.7" y1="437.75" x2="328.5" y2="498.45" stroke="#f21010" stroke-width="1.5"/>
<text x="227.9" y="494.5" class="eq" textLength="60.3" lengthAdjust="spacingAndGlyphs">y = 28.3038 - 0.1150x</text>
<text x="243.4" y="502.6" class="eq" textLength="28.1" lengthAdjust="spacingAndGlyphs">R<tspan class="sup2" dy="-2.2">2</tspan><tspan dy="2.2">=0.9676</tspan></text>
<text x="170.8" y="260.2" class="cap" text-anchor="middle">(b)</text>
<text x="170.7" y="545.7" class="cap" text-anchor="middle">(c)</text>
</svg>
</body></html>
